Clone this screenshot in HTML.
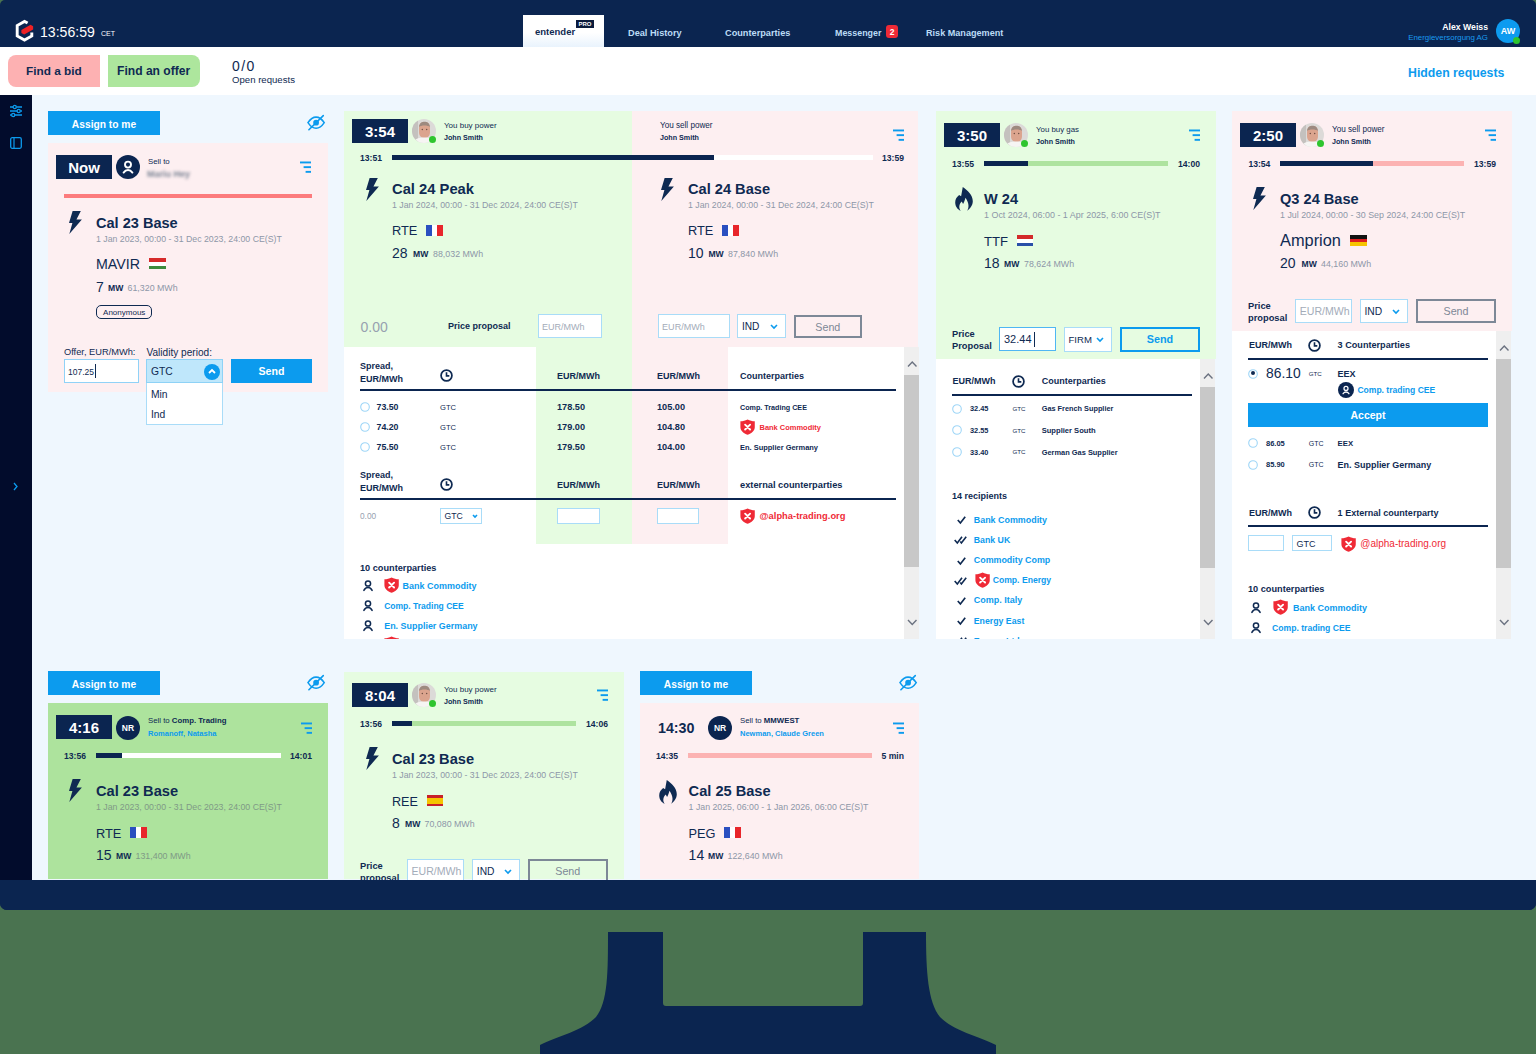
<!DOCTYPE html><html><head><meta charset="utf-8"><style>
html,body{margin:0;padding:0;}
body{width:1536px;height:1054px;overflow:hidden;position:relative;background:#4a7350;font-family:"Liberation Sans",sans-serif;}
.a{position:absolute;}
.t{position:absolute;white-space:nowrap;line-height:1;}
svg{overflow:visible}
</style></head><body>

<div class="a" style="left:0px;top:0px;width:1536px;height:910px;background:#0b2550;border-radius:5px 5px 7px 7px"></div>
<svg class="a" style="left:540px;top:932px;" width="456" height="122" viewBox="0 0 456 122" preserveAspectRatio="none"><path d="M68,0 L123,0 L123,71 Q123,74 126,74 L320,74 Q323,74 323,71 L323,0 L386,0 C386,40 388,70 400,85 C412,98 440,105 456,113 L456,123 L0,123 L0,113 C16,105 44,98 56,85 C68,70 68,40 68,0 Z" fill="#0b2550"/></svg>
<div class="a" style="left:0px;top:47px;width:1536px;height:48px;background:#ffffff;"></div>
<div class="a" style="left:32px;top:95px;width:1504px;height:785px;background:#eff7fe;"></div>
<div class="a" style="left:0px;top:95px;width:32px;height:785px;background:#020c2c;"></div>
<svg class="a" style="left:0px;top:0px;" width="60" height="60" viewBox="0 0 60 60" preserveAspectRatio="none"><path d="M27.6,23.1 L24.5,21.4 L17.2,25.6 L17.2,35.9 L24.5,40 L31.8,35.9 L31.8,32.6" fill="none" stroke="#fff" stroke-width="2.9" stroke-linejoin="miter"/><path d="M21.4,29.9 L30.6,24.7 L33.1,26.2 L33.1,29.4 L24.2,34.6 L21.4,33 Z" fill="#ee2124"/></svg>
<div class="t" style="left:40px;top:25.00px;font-size:14.1px;font-weight:400;color:#fff;">13:56:59</div>
<div class="t" style="left:101px;top:30.00px;font-size:7px;font-weight:400;color:#fff;">CET</div>
<div class="a" style="left:523px;top:15px;width:81px;height:32px;background:linear-gradient(#ffffff 55%,#e9f3fd)"></div>
<div class="t" style="left:535px;top:27.00px;font-size:9.5px;font-weight:700;color:#0f2a52;">entender</div>
<div class="a" style="left:576px;top:20px;width:18px;height:8px;background:#0a1b3c;"></div>
<div class="t" style="left:285px;width:600px;text-align:center;top:21.00px;font-size:6px;font-weight:700;color:#fff;">PRO</div>
<div class="t" style="left:628px;top:29.00px;font-size:9.2px;font-weight:700;color:#bcdcf6;">Deal History</div>
<div class="t" style="left:725px;top:29.00px;font-size:9.2px;font-weight:700;color:#bcdcf6;">Counterparties</div>
<div class="t" style="left:835px;top:29.00px;font-size:8.9px;font-weight:700;color:#bcdcf6;">Messenger</div>
<div class="a" style="left:886px;top:25px;width:12px;height:13px;background:#ef2a36;border-radius:3px"></div>
<div class="t" style="left:592px;width:600px;text-align:center;top:28.00px;font-size:8.5px;font-weight:700;color:#fff;">2</div>
<div class="t" style="left:926px;top:29.00px;font-size:9.1px;font-weight:700;color:#bcdcf6;">Risk Management</div>
<div class="t" style="right:48px;top:23.00px;font-size:8.7px;font-weight:700;color:#fff;">Alex Weiss</div>
<div class="t" style="right:48px;top:34.00px;font-size:7.9px;font-weight:400;color:#1a9bef;">Energieversorgung AG</div>
<div class="a" style="left:1496px;top:19px;width:24px;height:24px;border-radius:50%;background:#0d9bf0"></div>
<div class="t" style="left:1208px;width:600px;text-align:center;top:27.00px;font-size:9px;font-weight:700;color:#fff;">AW</div>
<div class="a" style="left:1513px;top:36.5px;width:7px;height:7px;border-radius:50%;background:#2ec52e"></div>
<div class="a" style="left:8px;top:55px;width:92px;height:32px;background:#fdb1b2;border-radius:8px 0 0 8px"></div>
<div class="t" style="left:26px;top:66.00px;font-size:11.8px;font-weight:700;color:#0f2a52;">Find a bid</div>
<div class="a" style="left:108px;top:55px;width:92px;height:32px;background:#ade69d;border-radius:0 8px 8px 0"></div>
<div class="t" style="left:117px;top:65.00px;font-size:12.1px;font-weight:700;color:#0f2a52;">Find an offer</div>
<div class="t" style="left:232px;top:59.00px;font-size:14px;font-weight:400;color:#0f2a52;letter-spacing:1.4px">0/0</div>
<div class="t" style="left:232px;top:75.00px;font-size:9.6px;font-weight:400;color:#0f2a52;">Open requests</div>
<div class="t" style="left:1408px;top:67.00px;font-size:12.3px;font-weight:700;color:#0c9bee;">Hidden requests</div>
<svg class="a" style="left:9px;top:104.2px;" width="14" height="14" viewBox="0 0 14 14" preserveAspectRatio="none"><g stroke="#0c9bee" stroke-width="1.3" fill="none"><path d="M1,3 L4,3 M7.5,3 L13,3"/><circle cx="5.7" cy="3" r="1.6"/><path d="M1,7 L8,7 M11.5,7 L13,7"/><circle cx="9.7" cy="7" r="1.6"/><path d="M1,11 L2.5,11 M6,11 L13,11"/><circle cx="4.2" cy="11" r="1.6"/></g></svg>
<svg class="a" style="left:10px;top:137px;" width="12" height="12" viewBox="0 0 12 12" preserveAspectRatio="none"><rect x="0.7" y="0.7" width="10.6" height="10.6" rx="1.5" fill="none" stroke="#0c9bee" stroke-width="1.3"/><path d="M4,1 L4,11" stroke="#0c9bee" stroke-width="1.2"/></svg>
<svg class="a" style="left:13px;top:482px;" width="5" height="9" viewBox="0 0 5 9" preserveAspectRatio="none"><path d="M1,1 L4,4.5 L1,8" fill="none" stroke="#0c9bee" stroke-width="1.3"/></svg>
<div class="a" style="left:48px;top:111px;width:112px;height:24px;background:#0c9bee;"></div>
<div class="t" style="left:-196px;width:600px;text-align:center;top:120.00px;font-size:10.24px;font-weight:700;color:#fff;">Assign to me</div>
<svg class="a" style="left:307px;top:114.8px;" width="18.2" height="15.4" viewBox="0 0 19 16" preserveAspectRatio="none"><path d="M1,8 C4,3.5 7,2.2 9.5,2.2 C12,2.2 15,3.5 18,8 C15,12.5 12,13.8 9.5,13.8 C7,13.8 4,12.5 1,8 Z" fill="none" stroke="#0c9bee" stroke-width="1.6"/><circle cx="9.5" cy="8" r="3" fill="#0c9bee"/><path d="M2,15.3 L17,0.7" stroke="#0c9bee" stroke-width="1.7" stroke-linecap="round"/></svg>
<div class="a" style="left:48px;top:143px;width:280px;height:249px;background:#fdeff1;"></div>
<div class="a" style="left:56px;top:155px;width:56px;height:24px;background:#0b2550;"></div>
<div class="t" style="left:-216px;width:600px;text-align:center;top:160.00px;font-size:15px;font-weight:700;color:#fff;">Now</div>
<div class="a" style="left:116px;top:155px;width:24px;height:24px;border-radius:50%;background:#0b2550"></div>
<svg class="a" style="left:116.0px;top:155.0px;" width="24.0" height="24.0" viewBox="0 0 24 24" preserveAspectRatio="none"><circle cx="12" cy="9.6" r="3" fill="none" stroke="#fff" stroke-width="1.9"/><path d="M7.6,17.6 C9,15.6 10.4,15 12,15 C13.6,15 15,15.6 16.4,17.6" fill="none" stroke="#fff" stroke-width="1.9" stroke-linecap="round"/></svg>
<div class="t" style="left:148px;top:158.00px;font-size:7.8px;font-weight:400;color:#0f2a52;">Sell to</div>
<div class="t" style="left:147px;top:170.00px;font-size:9px;font-weight:700;color:#7b8494;filter:blur(1.8px)">Mariu Hey</div>
<svg class="a" style="left:300px;top:161px;" width="11" height="12" viewBox="0 0 11 12" preserveAspectRatio="none"><rect x="0" y="0.5" width="11" height="1.9" fill="#0c9bee"/><rect x="3.6" y="5.2" width="7.4" height="1.9" fill="#0c9bee"/><rect x="5.6" y="9.9" width="5.4" height="1.9" fill="#0c9bee"/></svg>
<div class="a" style="left:64px;top:194px;width:248px;height:4px;background:#fc7b7d;"></div>
<svg class="a" style="left:69px;top:211px;" width="13" height="23" viewBox="0 0 12.2 22.8" preserveAspectRatio="none"><path d="M3.4,0 L11.1,0 L7,8.5 L12.1,8.5 L0.3,22.7 L3.2,12 L0,12 Z" fill="#0f2a52"/></svg>
<div class="t" style="left:96px;top:216.00px;font-size:14.55px;font-weight:700;color:#0f2a52;">Cal 23 Base</div>
<div class="t" style="left:96px;top:235.00px;font-size:8.76px;font-weight:400;color:#8d97a8;">1 Jan 2023, 00:00 - 31 Dec 2023, 24:00 CE(S)T</div>
<div class="t" style="left:96px;top:257.00px;font-size:14.23px;font-weight:400;color:#0f2a52;">MAVIR</div>
<div class="a" style="left:149px;top:258.4px;width:16.6px;height:3.6666666666666665px;background:#d62a2a;"></div>
<div class="a" style="left:149px;top:262.06666666666666px;width:16.6px;height:3.6666666666666665px;background:#ffffff;"></div>
<div class="a" style="left:149px;top:265.7333333333333px;width:16.6px;height:3.6666666666666665px;background:#3d8b3d;"></div>
<div class="t" style="left:96px;top:280.00px;font-size:14px;font-weight:400;color:#0f2a52;">7</div>
<div class="t" style="left:108px;top:284.00px;font-size:8.6px;font-weight:700;color:#0f2a52;">MW</div>
<div class="t" style="left:127.5px;top:284.00px;font-size:8.85px;font-weight:400;color:#8d97a8;">61,320 MWh</div>
<div class="a" style="left:96px;top:305px;width:53.6px;height:11.6px;border:1.2px solid #0f2a52;border-radius:5px"></div>
<div class="t" style="left:-175.8px;width:600px;text-align:center;top:309.00px;font-size:8.03px;font-weight:400;color:#0f2a52;">Anonymous</div>
<div class="t" style="left:64px;top:348.00px;font-size:9.28px;font-weight:400;color:#0f2a52;">Offer, EUR/MWh:</div>
<div class="t" style="left:146.5px;top:348.00px;font-size:10.1px;font-weight:400;color:#0f2a52;">Validity period:</div>
<div class="a" style="left:64px;top:359px;width:73px;height:22px;background:#fff;border:1px solid #90d2f7"></div>
<div class="t" style="left:68px;top:368.00px;font-size:8.5px;font-weight:400;color:#0f2a52;">107.25</div>
<div class="a" style="left:95px;top:364px;width:1px;height:14px;background:#0f2a52;"></div>
<div class="a" style="left:146px;top:359px;width:75px;height:22px;background:#bfe7fb;border:1px solid #8ed2f6"></div>
<div class="t" style="left:151px;top:367.00px;font-size:10.3px;font-weight:400;color:#0f2a52;">GTC</div>
<div class="a" style="left:203.5px;top:363.5px;width:16px;height:16px;border-radius:50%;background:#0c9bee"></div>
<svg class="a" style="left:207.5px;top:369px;" width="8" height="5" viewBox="0 0 8 5" preserveAspectRatio="none"><path d="M1,4 L4.0,1 L7,4" fill="none" stroke="#fff" stroke-width="1.8"/></svg>
<div class="a" style="left:146px;top:383px;width:75px;height:41px;background:#fff;border:1px solid #a9dcf8;border-top:none"></div>
<div class="t" style="left:151px;top:390.00px;font-size:10.3px;font-weight:400;color:#0f2a52;">Min</div>
<div class="t" style="left:151px;top:410.00px;font-size:10.3px;font-weight:400;color:#0f2a52;">Ind</div>
<div class="a" style="left:231px;top:359px;width:81px;height:24px;background:#0c9bee;"></div>
<div class="t" style="left:-28.5px;width:600px;text-align:center;top:366.00px;font-size:10.64px;font-weight:700;color:#fff;">Send</div>
<div class="a" style="left:344px;top:111px;width:288px;height:236px;background:#e6fce1;"></div>
<div class="a" style="left:632px;top:111px;width:286px;height:236px;background:#fdeff1;"></div>
<div class="a" style="left:344px;top:347px;width:560px;height:292px;background:#fff;"></div>
<div class="a" style="left:536px;top:347px;width:96px;height:197px;background:#e6fce1;"></div>
<div class="a" style="left:632px;top:347px;width:96px;height:197px;background:#fdeff1;"></div>
<div class="a" style="left:904px;top:347px;width:15px;height:292px;background:#efefef;"></div>
<div class="a" style="left:904px;top:375px;width:15px;height:192px;background:#c8c8c8;"></div>
<svg class="a" style="left:906.5px;top:360.5px;" width="10.5" height="6.5" viewBox="0 0 10.5 6.5" preserveAspectRatio="none"><path d="M1,5.5 L5.25,1 L9.5,5.5" fill="none" stroke="#6b7280" stroke-width="1.4"/></svg>
<svg class="a" style="left:906.5px;top:618.5px;" width="10.5" height="6.5" viewBox="0 0 10.5 6.5" preserveAspectRatio="none"><path d="M1,1 L5.25,5.5 L9.5,1" fill="none" stroke="#6b7280" stroke-width="1.4"/></svg>
<div class="a" style="left:352px;top:119px;width:56px;height:24px;background:#0b2550;"></div>
<div class="t" style="left:80px;width:600px;text-align:center;top:124.00px;font-size:15px;font-weight:700;color:#fff;">3:54</div>
<svg class="a" style="left:412px;top:119px;" width="24" height="24" viewBox="0 0 24 24" preserveAspectRatio="none"><defs><clipPath id="av1"><circle cx="12" cy="12" r="12"/></clipPath></defs><g clip-path="url(#av1)"><rect width="24" height="24" fill="#dcdad8"/><rect x="0" y="0" width="6" height="24" fill="#c4c1be"/><path d="M7,9 C7,4.5 9.5,3 12.5,3 C15.5,3 18,4.5 18,9 L18,13 C18,17 15.5,19 12.5,19 C9.5,19 7,17 7,13 Z" fill="#dba48e"/><path d="M7,8 C7.5,4 10,2.8 12.5,2.8 C15,2.8 17.5,4 18,8 C16,6 9,6 7,8 Z" fill="#9d8a80"/><circle cx="10.3" cy="10.5" r="0.7" fill="#6a4a40"/><circle cx="14.7" cy="10.5" r="0.7" fill="#6a4a40"/><path d="M1,24 C3,19.5 7,18.5 12.5,18.5 C18,18.5 22,19.5 24,24 Z" fill="#f6f5f3"/></g></svg>
<div class="a" style="left:429.2px;top:136.2px;width:7px;height:7px;border-radius:50%;background:#2ec52e"></div>
<div class="t" style="left:444px;top:122.00px;font-size:8.0px;font-weight:400;color:#0f2a52;">You buy power</div>
<div class="t" style="left:444px;top:135.00px;font-size:7.16px;font-weight:700;color:#0f2a52;">John Smith</div>
<div class="t" style="left:660px;top:122.00px;font-size:8.13px;font-weight:400;color:#0f2a52;">You sell power</div>
<div class="t" style="left:660px;top:135.00px;font-size:7.16px;font-weight:700;color:#0f2a52;">John Smith</div>
<svg class="a" style="left:893px;top:129px;" width="11" height="12" viewBox="0 0 11 12" preserveAspectRatio="none"><rect x="0" y="0.5" width="11" height="1.9" fill="#0c9bee"/><rect x="3.6" y="5.2" width="7.4" height="1.9" fill="#0c9bee"/><rect x="5.6" y="9.9" width="5.4" height="1.9" fill="#0c9bee"/></svg>
<div class="t" style="left:360px;top:154.00px;font-size:8.6px;font-weight:700;color:#0f2a52;">13:51</div>
<div class="a" style="left:392px;top:155px;width:322px;height:5px;background:#0b2550;"></div>
<div class="a" style="left:714px;top:155px;width:159px;height:5px;background:#ffffff;"></div>
<div class="t" style="right:632px;top:154.00px;font-size:8.6px;font-weight:700;color:#0f2a52;">13:59</div>
<svg class="a" style="left:366px;top:178px;" width="13" height="23" viewBox="0 0 12.2 22.8" preserveAspectRatio="none"><path d="M3.4,0 L11.1,0 L7,8.5 L12.1,8.5 L0.3,22.7 L3.2,12 L0,12 Z" fill="#0f2a52"/></svg>
<div class="t" style="left:392px;top:182.00px;font-size:14.75px;font-weight:700;color:#0f2a52;">Cal 24 Peak</div>
<div class="t" style="left:392px;top:201.00px;font-size:8.76px;font-weight:400;color:#8d97a8;">1 Jan 2024, 00:00 - 31 Dec 2024, 24:00 CE(S)T</div>
<div class="t" style="left:392px;top:225.00px;font-size:12.82px;font-weight:400;color:#0f2a52;">RTE</div>
<div class="a" style="left:426px;top:224.9px;width:5.533333333333334px;height:11px;background:#2a4fc0;"></div>
<div class="a" style="left:431.53333333333336px;top:224.9px;width:5.533333333333334px;height:11px;background:#ffffff;"></div>
<div class="a" style="left:437.06666666666666px;top:224.9px;width:5.533333333333334px;height:11px;background:#e8262b;"></div>
<div class="t" style="left:392px;top:246.00px;font-size:14px;font-weight:400;color:#0f2a52;">28</div>
<div class="t" style="left:413px;top:250.00px;font-size:8.6px;font-weight:700;color:#0f2a52;">MW</div>
<div class="t" style="left:433px;top:250.00px;font-size:8.85px;font-weight:400;color:#8d97a8;">88,032 MWh</div>
<svg class="a" style="left:661px;top:178px;" width="13" height="23" viewBox="0 0 12.2 22.8" preserveAspectRatio="none"><path d="M3.4,0 L11.1,0 L7,8.5 L12.1,8.5 L0.3,22.7 L3.2,12 L0,12 Z" fill="#0f2a52"/></svg>
<div class="t" style="left:688px;top:182.00px;font-size:14.61px;font-weight:700;color:#0f2a52;">Cal 24 Base</div>
<div class="t" style="left:688px;top:201.00px;font-size:8.76px;font-weight:400;color:#8d97a8;">1 Jan 2024, 00:00 - 31 Dec 2024, 24:00 CE(S)T</div>
<div class="t" style="left:688px;top:225.00px;font-size:12.82px;font-weight:400;color:#0f2a52;">RTE</div>
<div class="a" style="left:722px;top:224.9px;width:5.533333333333334px;height:11px;background:#2a4fc0;"></div>
<div class="a" style="left:727.5333333333333px;top:224.9px;width:5.533333333333334px;height:11px;background:#ffffff;"></div>
<div class="a" style="left:733.0666666666667px;top:224.9px;width:5.533333333333334px;height:11px;background:#e8262b;"></div>
<div class="t" style="left:688px;top:246.00px;font-size:14px;font-weight:400;color:#0f2a52;">10</div>
<div class="t" style="left:708.4px;top:250.00px;font-size:8.6px;font-weight:700;color:#0f2a52;">MW</div>
<div class="t" style="left:728px;top:250.00px;font-size:8.85px;font-weight:400;color:#8d97a8;">87,840 MWh</div>
<div class="t" style="left:360.5px;top:320.00px;font-size:14px;font-weight:400;color:#97a1b0;">0.00</div>
<div class="t" style="left:448px;top:322.00px;font-size:9.0px;font-weight:700;color:#0f2a52;">Price proposal</div>
<div class="a" style="left:537.5px;top:314px;width:62.5px;height:22px;background:#fff;border:1px solid #a9dcf8"></div>
<div class="t" style="left:542.0px;top:323.00px;font-size:9.04px;font-weight:400;color:#a3acb9;">EUR/MWh</div>
<div class="a" style="left:657.6px;top:314px;width:70px;height:22px;background:#fff;border:1px solid #a9dcf8"></div>
<div class="t" style="left:662.1px;top:323.00px;font-size:9.04px;font-weight:400;color:#a3acb9;">EUR/MWh</div>
<div class="a" style="left:737.4px;top:314px;width:46.3px;height:22px;background:#fff;border:1px solid #a9dcf8"></div>
<div class="t" style="left:741.9px;top:322.00px;font-size:10.16px;font-weight:400;color:#0f2a52;">IND</div>
<svg class="a" style="left:769.6999999999999px;top:323.8px;" width="8" height="5" viewBox="0 0 8 5" preserveAspectRatio="none"><path d="M1,1 L4.0,4 L7,1" fill="none" stroke="#0c9bee" stroke-width="1.6"/></svg>
<div class="a" style="left:793.8px;top:315px;width:64px;height:19px;border:2px solid #7d8897"></div>
<div class="t" style="left:527.8px;width:600px;text-align:center;top:322.00px;font-size:10.71px;font-weight:400;color:#7d8897;">Send</div>
<div class="t" style="left:360px;top:362.00px;font-size:9.0px;font-weight:700;color:#0f2a52;">Spread,</div>
<div class="t" style="left:360px;top:375.00px;font-size:9.0px;font-weight:700;color:#0f2a52;">EUR/MWh</div>
<svg class="a" style="left:439.5px;top:369.0px;" width="13" height="13" viewBox="0 0 12 12" preserveAspectRatio="none"><circle cx="6" cy="6" r="5" fill="none" stroke="#0f2a52" stroke-width="1.6"/><path d="M6,3 L6,6.3 L8.6,6.3" fill="none" stroke="#0f2a52" stroke-width="1.5"/></svg>
<div class="t" style="left:557px;top:372.00px;font-size:9.0px;font-weight:700;color:#0f2a52;">EUR/MWh</div>
<div class="t" style="left:657px;top:372.00px;font-size:9.0px;font-weight:700;color:#0f2a52;">EUR/MWh</div>
<div class="t" style="left:740px;top:372.00px;font-size:9px;font-weight:700;color:#0f2a52;">Counterparties</div>
<div class="a" style="left:360px;top:389px;width:536px;height:2px;background:#0b2550;"></div>
<svg class="a" style="left:360px;top:402.2px;" width="10" height="10" viewBox="0 0 10 10" preserveAspectRatio="none"><circle cx="5" cy="5" r="4.3" fill="#fff" stroke="#9fd6f7" stroke-width="1.1"/></svg>
<div class="t" style="left:376.5px;top:403.00px;font-size:8.79px;font-weight:700;color:#0f2a52;">73.50</div>
<div class="t" style="left:440px;top:404.00px;font-size:7.58px;font-weight:400;color:#0f2a52;">GTC</div>
<div class="t" style="left:557px;top:403.00px;font-size:9.16px;font-weight:700;color:#0f2a52;">178.50</div>
<div class="t" style="left:657px;top:403.00px;font-size:9.16px;font-weight:700;color:#0f2a52;">105.00</div>
<div class="t" style="left:740px;top:405.00px;font-size:7.18px;font-weight:700;color:#0f2a52;">Comp. Trading CEE</div>
<svg class="a" style="left:360px;top:422.2px;" width="10" height="10" viewBox="0 0 10 10" preserveAspectRatio="none"><circle cx="5" cy="5" r="4.3" fill="#fff" stroke="#9fd6f7" stroke-width="1.1"/></svg>
<div class="t" style="left:376.5px;top:423.00px;font-size:8.79px;font-weight:700;color:#0f2a52;">74.20</div>
<div class="t" style="left:440px;top:424.00px;font-size:7.58px;font-weight:400;color:#0f2a52;">GTC</div>
<div class="t" style="left:557px;top:423.00px;font-size:9.16px;font-weight:700;color:#0f2a52;">179.00</div>
<div class="t" style="left:657px;top:423.00px;font-size:9.16px;font-weight:700;color:#0f2a52;">104.80</div>
<svg class="a" style="left:740.2px;top:419.2px;" width="15.2" height="16" viewBox="0 0 14.6 16" preserveAspectRatio="none"><path d="M7.3,0.4 C9.5,1.6 11.8,2.2 14.2,2.2 L14.2,8.2 C14.2,11.8 11.2,14.4 7.3,15.8 C3.4,14.4 0.4,11.8 0.4,8.2 L0.4,2.2 C2.8,2.2 5.1,1.6 7.3,0.4 Z" fill="#ef2a36"/><path d="M4.9,5.7 L9.7,10.5 M9.7,5.7 L4.9,10.5" stroke="#fff" stroke-width="1.8" stroke-linecap="round"/></svg>
<div class="t" style="left:759.5px;top:424.00px;font-size:7.48px;font-weight:700;color:#ef2a36;">Bank Commodity</div>
<svg class="a" style="left:360px;top:442.2px;" width="10" height="10" viewBox="0 0 10 10" preserveAspectRatio="none"><circle cx="5" cy="5" r="4.3" fill="#fff" stroke="#9fd6f7" stroke-width="1.1"/></svg>
<div class="t" style="left:376.5px;top:443.00px;font-size:8.79px;font-weight:700;color:#0f2a52;">75.50</div>
<div class="t" style="left:440px;top:444.00px;font-size:7.58px;font-weight:400;color:#0f2a52;">GTC</div>
<div class="t" style="left:557px;top:443.00px;font-size:9.16px;font-weight:700;color:#0f2a52;">179.50</div>
<div class="t" style="left:657px;top:443.00px;font-size:9.16px;font-weight:700;color:#0f2a52;">104.00</div>
<div class="t" style="left:740px;top:444.00px;font-size:7.47px;font-weight:700;color:#0f2a52;">En. Supplier Germany</div>
<div class="t" style="left:360px;top:471.00px;font-size:9.0px;font-weight:700;color:#0f2a52;">Spread,</div>
<div class="t" style="left:360px;top:484.00px;font-size:9.0px;font-weight:700;color:#0f2a52;">EUR/MWh</div>
<svg class="a" style="left:439.5px;top:477.5px;" width="13" height="13" viewBox="0 0 12 12" preserveAspectRatio="none"><circle cx="6" cy="6" r="5" fill="none" stroke="#0f2a52" stroke-width="1.6"/><path d="M6,3 L6,6.3 L8.6,6.3" fill="none" stroke="#0f2a52" stroke-width="1.5"/></svg>
<div class="t" style="left:557px;top:481.00px;font-size:9.0px;font-weight:700;color:#0f2a52;">EUR/MWh</div>
<div class="t" style="left:657px;top:481.00px;font-size:9.0px;font-weight:700;color:#0f2a52;">EUR/MWh</div>
<div class="t" style="left:740px;top:481.00px;font-size:9.27px;font-weight:700;color:#0f2a52;">external counterparties</div>
<div class="a" style="left:360px;top:498px;width:536px;height:2px;background:#0b2550;"></div>
<div class="t" style="left:360px;top:512.00px;font-size:8.3px;font-weight:400;color:#97a1b0;">0.00</div>
<div class="a" style="left:440px;top:508px;width:40px;height:14px;background:#fff;border:1px solid #a9dcf8"></div>
<div class="t" style="left:444.5px;top:512.00px;font-size:8.67px;font-weight:400;color:#0f2a52;">GTC</div>
<svg class="a" style="left:471.5px;top:514.3px;" width="6" height="4" viewBox="0 0 6 4" preserveAspectRatio="none"><path d="M1,1 L3.0,3 L5,1" fill="none" stroke="#0c9bee" stroke-width="1.6"/></svg>
<div class="a" style="left:557px;top:508px;width:41px;height:14px;background:#fff;border:1px solid #a9dcf8"></div>
<div class="a" style="left:657px;top:508px;width:40px;height:14px;background:#fff;border:1px solid #a9dcf8"></div>
<svg class="a" style="left:740.2px;top:508px;" width="15.2" height="16" viewBox="0 0 14.6 16" preserveAspectRatio="none"><path d="M7.3,0.4 C9.5,1.6 11.8,2.2 14.2,2.2 L14.2,8.2 C14.2,11.8 11.2,14.4 7.3,15.8 C3.4,14.4 0.4,11.8 0.4,8.2 L0.4,2.2 C2.8,2.2 5.1,1.6 7.3,0.4 Z" fill="#ef2a36"/><path d="M4.9,5.7 L9.7,10.5 M9.7,5.7 L4.9,10.5" stroke="#fff" stroke-width="1.8" stroke-linecap="round"/></svg>
<div class="t" style="left:759.5px;top:512.00px;font-size:9.35px;font-weight:700;color:#ef2a36;">@alpha-trading.org</div>
<div class="t" style="left:360px;top:564.00px;font-size:9.18px;font-weight:700;color:#0f2a52;">10 counterparties</div>
<svg class="a" style="left:363px;top:579.5px;" width="10" height="11" viewBox="0 0 10 11" preserveAspectRatio="none"><circle cx="5" cy="3.5" r="2.6" fill="none" stroke="#0f2a52" stroke-width="1.5"/><path d="M0.9,10.3 C2,8.3 3.4,7.5 5,7.5 C6.6,7.5 8,8.3 9.1,10.3" fill="none" stroke="#0f2a52" stroke-width="1.6" stroke-linecap="round"/></svg>
<svg class="a" style="left:384.2px;top:577px;" width="15.2" height="16" viewBox="0 0 14.6 16" preserveAspectRatio="none"><path d="M7.3,0.4 C9.5,1.6 11.8,2.2 14.2,2.2 L14.2,8.2 C14.2,11.8 11.2,14.4 7.3,15.8 C3.4,14.4 0.4,11.8 0.4,8.2 L0.4,2.2 C2.8,2.2 5.1,1.6 7.3,0.4 Z" fill="#ef2a36"/><path d="M4.9,5.7 L9.7,10.5 M9.7,5.7 L4.9,10.5" stroke="#fff" stroke-width="1.8" stroke-linecap="round"/></svg>
<div class="t" style="left:402.6px;top:582.00px;font-size:9.0px;font-weight:700;color:#0c9bee;">Bank Commodity</div>
<svg class="a" style="left:363px;top:599.5px;" width="10" height="11" viewBox="0 0 10 11" preserveAspectRatio="none"><circle cx="5" cy="3.5" r="2.6" fill="none" stroke="#0f2a52" stroke-width="1.5"/><path d="M0.9,10.3 C2,8.3 3.4,7.5 5,7.5 C6.6,7.5 8,8.3 9.1,10.3" fill="none" stroke="#0f2a52" stroke-width="1.6" stroke-linecap="round"/></svg>
<div class="t" style="left:384.2px;top:602.00px;font-size:8.52px;font-weight:700;color:#0c9bee;">Comp. Trading CEE</div>
<svg class="a" style="left:363px;top:619.5px;" width="10" height="11" viewBox="0 0 10 11" preserveAspectRatio="none"><circle cx="5" cy="3.5" r="2.6" fill="none" stroke="#0f2a52" stroke-width="1.5"/><path d="M0.9,10.3 C2,8.3 3.4,7.5 5,7.5 C6.6,7.5 8,8.3 9.1,10.3" fill="none" stroke="#0f2a52" stroke-width="1.6" stroke-linecap="round"/></svg>
<div class="t" style="left:384.2px;top:622.00px;font-size:8.95px;font-weight:700;color:#0c9bee;">En. Supplier Germany</div>
<div class="a" style="left:380px;top:630px;width:20px;height:9px;overflow:hidden">
<svg class="a" style="left:4.2px;top:5.5px;" width="15.2" height="16" viewBox="0 0 14.6 16" preserveAspectRatio="none"><path d="M7.3,0.4 C9.5,1.6 11.8,2.2 14.2,2.2 L14.2,8.2 C14.2,11.8 11.2,14.4 7.3,15.8 C3.4,14.4 0.4,11.8 0.4,8.2 L0.4,2.2 C2.8,2.2 5.1,1.6 7.3,0.4 Z" fill="#ef2a36"/><path d="M4.9,5.7 L9.7,10.5 M9.7,5.7 L4.9,10.5" stroke="#fff" stroke-width="1.8" stroke-linecap="round"/></svg>
</div>
<div class="a" style="left:936px;top:111px;width:280px;height:248px;background:#e6fce1;"></div>
<div class="a" style="left:936px;top:359px;width:264px;height:280px;background:#fff;"></div>
<div class="a" style="left:1200px;top:359px;width:15px;height:280px;background:#efefef;"></div>
<div class="a" style="left:1200px;top:387px;width:15px;height:181px;background:#c8c8c8;"></div>
<svg class="a" style="left:1202.5px;top:372.5px;" width="10.5" height="6.5" viewBox="0 0 10.5 6.5" preserveAspectRatio="none"><path d="M1,5.5 L5.25,1 L9.5,5.5" fill="none" stroke="#6b7280" stroke-width="1.4"/></svg>
<svg class="a" style="left:1202.5px;top:618.5px;" width="10.5" height="6.5" viewBox="0 0 10.5 6.5" preserveAspectRatio="none"><path d="M1,1 L5.25,5.5 L9.5,1" fill="none" stroke="#6b7280" stroke-width="1.4"/></svg>
<div class="a" style="left:944px;top:123px;width:56px;height:24px;background:#0b2550;"></div>
<div class="t" style="left:672px;width:600px;text-align:center;top:128.00px;font-size:15px;font-weight:700;color:#fff;">3:50</div>
<svg class="a" style="left:1004px;top:123px;" width="24" height="24" viewBox="0 0 24 24" preserveAspectRatio="none"><defs><clipPath id="av2"><circle cx="12" cy="12" r="12"/></clipPath></defs><g clip-path="url(#av2)"><rect width="24" height="24" fill="#dcdad8"/><rect x="0" y="0" width="6" height="24" fill="#c4c1be"/><path d="M7,9 C7,4.5 9.5,3 12.5,3 C15.5,3 18,4.5 18,9 L18,13 C18,17 15.5,19 12.5,19 C9.5,19 7,17 7,13 Z" fill="#dba48e"/><path d="M7,8 C7.5,4 10,2.8 12.5,2.8 C15,2.8 17.5,4 18,8 C16,6 9,6 7,8 Z" fill="#9d8a80"/><circle cx="10.3" cy="10.5" r="0.7" fill="#6a4a40"/><circle cx="14.7" cy="10.5" r="0.7" fill="#6a4a40"/><path d="M1,24 C3,19.5 7,18.5 12.5,18.5 C18,18.5 22,19.5 24,24 Z" fill="#f6f5f3"/></g></svg>
<div class="a" style="left:1021.2px;top:140.2px;width:7px;height:7px;border-radius:50%;background:#2ec52e"></div>
<div class="t" style="left:1036px;top:126.00px;font-size:7.86px;font-weight:400;color:#0f2a52;">You buy gas</div>
<div class="t" style="left:1036px;top:139.00px;font-size:7.16px;font-weight:700;color:#0f2a52;">John Smith</div>
<svg class="a" style="left:1189px;top:129px;" width="11" height="12" viewBox="0 0 11 12" preserveAspectRatio="none"><rect x="0" y="0.5" width="11" height="1.9" fill="#0c9bee"/><rect x="3.6" y="5.2" width="7.4" height="1.9" fill="#0c9bee"/><rect x="5.6" y="9.9" width="5.4" height="1.9" fill="#0c9bee"/></svg>
<div class="t" style="left:952px;top:160.00px;font-size:8.6px;font-weight:700;color:#0f2a52;">13:55</div>
<div class="a" style="left:984px;top:161px;width:44px;height:5px;background:#0b2550;"></div>
<div class="a" style="left:1028px;top:161px;width:140px;height:5px;background:#aee39f;"></div>
<div class="t" style="right:336px;top:160.00px;font-size:8.6px;font-weight:700;color:#0f2a52;">14:00</div>
<svg class="a" style="left:955px;top:187px;" width="18" height="24" viewBox="0 0 17.4 23.6" preserveAspectRatio="none"><path d="M7.5,0 C12,3 17.2,8 17.2,14 C17.2,18 14.5,21.5 11.7,23.4 C13.5,20.5 14,16.5 10.2,10.5 C9.5,13 8.7,15 7.8,16.6 L6.5,14.2 C4,16.5 3.3,20.5 5.6,23.4 C2,22 0.2,18.5 0.2,15 C0.2,12 2,9.5 4,7.9 L5.9,9 C6.5,6 7,3 7.5,0 Z" fill="#0f2a52"/></svg>
<div class="t" style="left:984px;top:192.00px;font-size:14.57px;font-weight:700;color:#0f2a52;">W 24</div>
<div class="t" style="left:984px;top:211.00px;font-size:8.93px;font-weight:400;color:#8d97a8;">1 Oct 2024, 06:00 - 1 Apr 2025, 6:00 CE(S)T</div>
<div class="t" style="left:984px;top:235.00px;font-size:13.1px;font-weight:400;color:#0f2a52;">TTF</div>
<div class="a" style="left:1016.7px;top:235.4px;width:16.6px;height:3.6666666666666665px;background:#d32a2a;"></div>
<div class="a" style="left:1016.7px;top:239.06666666666666px;width:16.6px;height:3.6666666666666665px;background:#ffffff;"></div>
<div class="a" style="left:1016.7px;top:242.73333333333335px;width:16.6px;height:3.6666666666666665px;background:#2a4fa8;"></div>
<div class="t" style="left:984px;top:256.00px;font-size:14px;font-weight:400;color:#0f2a52;">18</div>
<div class="t" style="left:1004px;top:260.00px;font-size:8.6px;font-weight:700;color:#0f2a52;">MW</div>
<div class="t" style="left:1024px;top:260.00px;font-size:8.85px;font-weight:400;color:#8d97a8;">78,624 MWh</div>
<div class="t" style="left:952px;top:330.00px;font-size:9.3px;font-weight:700;color:#0f2a52;">Price</div>
<div class="t" style="left:952px;top:342.00px;font-size:9.3px;font-weight:700;color:#0f2a52;">Proposal</div>
<div class="a" style="left:999px;top:327px;width:54.6px;height:22px;background:#fff;border:1.2px solid #4fb6f3"></div>
<div class="t" style="left:1004px;top:334.00px;font-size:11px;font-weight:400;color:#0f2a52;">32.44</div>
<div class="a" style="left:1034px;top:332px;width:1px;height:15px;background:#0f2a52;"></div>
<div class="a" style="left:1064px;top:327px;width:45.5px;height:22.5px;background:#fff;border:1px solid #a9dcf8"></div>
<div class="t" style="left:1068.5px;top:335.00px;font-size:9.58px;font-weight:400;color:#0f2a52;">FIRM</div>
<svg class="a" style="left:1095.5px;top:337.05px;" width="8" height="5" viewBox="0 0 8 5" preserveAspectRatio="none"><path d="M1,1 L4.0,4 L7,1" fill="none" stroke="#0c9bee" stroke-width="1.6"/></svg>
<div class="a" style="left:1120px;top:327px;width:76px;height:20.5px;border:2px solid #0c9bee"></div>
<div class="t" style="left:860px;width:600px;text-align:center;top:334.00px;font-size:10.8px;font-weight:700;color:#0c9bee;">Send</div>
<div class="t" style="left:952.5px;top:377.00px;font-size:9.0px;font-weight:700;color:#0f2a52;">EUR/MWh</div>
<svg class="a" style="left:1012.0px;top:374.5px;" width="13" height="13" viewBox="0 0 12 12" preserveAspectRatio="none"><circle cx="6" cy="6" r="5" fill="none" stroke="#0f2a52" stroke-width="1.6"/><path d="M6,3 L6,6.3 L8.6,6.3" fill="none" stroke="#0f2a52" stroke-width="1.5"/></svg>
<div class="t" style="left:1041.7px;top:377.00px;font-size:9px;font-weight:700;color:#0f2a52;">Counterparties</div>
<div class="a" style="left:952px;top:394px;width:240px;height:2px;background:#0b2550;"></div>
<svg class="a" style="left:952px;top:403.7px;" width="10" height="10" viewBox="0 0 10 10" preserveAspectRatio="none"><circle cx="5" cy="5" r="4.3" fill="#fff" stroke="#9fd6f7" stroke-width="1.1"/></svg>
<div class="t" style="left:970px;top:405.00px;font-size:7.39px;font-weight:700;color:#0f2a52;">32.45</div>
<div class="t" style="left:1012.5px;top:406.00px;font-size:6.16px;font-weight:400;color:#0f2a52;">GTC</div>
<div class="t" style="left:1041.7px;top:405.00px;font-size:7.33px;font-weight:700;color:#0f2a52;">Gas French Supplier</div>
<svg class="a" style="left:952px;top:425.4px;" width="10" height="10" viewBox="0 0 10 10" preserveAspectRatio="none"><circle cx="5" cy="5" r="4.3" fill="#fff" stroke="#9fd6f7" stroke-width="1.1"/></svg>
<div class="t" style="left:970px;top:427.00px;font-size:7.39px;font-weight:700;color:#0f2a52;">32.55</div>
<div class="t" style="left:1012.5px;top:428.00px;font-size:6.16px;font-weight:400;color:#0f2a52;">GTC</div>
<div class="t" style="left:1041.7px;top:427.00px;font-size:7.59px;font-weight:700;color:#0f2a52;">Supplier South</div>
<svg class="a" style="left:952px;top:447px;" width="10" height="10" viewBox="0 0 10 10" preserveAspectRatio="none"><circle cx="5" cy="5" r="4.3" fill="#fff" stroke="#9fd6f7" stroke-width="1.1"/></svg>
<div class="t" style="left:970px;top:449.00px;font-size:7.39px;font-weight:700;color:#0f2a52;">33.40</div>
<div class="t" style="left:1012.5px;top:449.00px;font-size:6.16px;font-weight:400;color:#0f2a52;">GTC</div>
<div class="t" style="left:1041.7px;top:449.00px;font-size:7.43px;font-weight:700;color:#0f2a52;">German Gas Supplier</div>
<div class="t" style="left:952px;top:492.00px;font-size:9.0px;font-weight:700;color:#0f2a52;">14 recipients</div>
<svg class="a" style="left:956.5px;top:516.1px;" width="9" height="8" viewBox="0 0 9 8" preserveAspectRatio="none"><path d="M0.8,4 L3.4,7 L8.2,0.8" fill="none" stroke="#0f2a52" stroke-width="1.7"/></svg>
<div class="t" style="left:973.8px;top:516.00px;font-size:8.91px;font-weight:700;color:#0c9bee;">Bank Commodity</div>
<svg class="a" style="left:953.5px;top:536.3px;" width="13" height="8" viewBox="0 0 13 8" preserveAspectRatio="none"><path d="M0.7,4 L3.3,7 L8,0.8 M6.3,5.6 L7.4,7 L12.2,0.8" fill="none" stroke="#0f2a52" stroke-width="1.6"/></svg>
<div class="t" style="left:973.8px;top:536.00px;font-size:8.76px;font-weight:700;color:#0c9bee;">Bank UK</div>
<svg class="a" style="left:956.5px;top:556.5px;" width="9" height="8" viewBox="0 0 9 8" preserveAspectRatio="none"><path d="M0.8,4 L3.4,7 L8.2,0.8" fill="none" stroke="#0f2a52" stroke-width="1.7"/></svg>
<div class="t" style="left:973.8px;top:556.00px;font-size:8.88px;font-weight:700;color:#0c9bee;">Commodity Comp</div>
<svg class="a" style="left:953.5px;top:576.5px;" width="13" height="8" viewBox="0 0 13 8" preserveAspectRatio="none"><path d="M0.7,4 L3.3,7 L8,0.8 M6.3,5.6 L7.4,7 L12.2,0.8" fill="none" stroke="#0f2a52" stroke-width="1.6"/></svg>
<svg class="a" style="left:974.7px;top:571.5px;" width="15.2" height="16" viewBox="0 0 14.6 16" preserveAspectRatio="none"><path d="M7.3,0.4 C9.5,1.6 11.8,2.2 14.2,2.2 L14.2,8.2 C14.2,11.8 11.2,14.4 7.3,15.8 C3.4,14.4 0.4,11.8 0.4,8.2 L0.4,2.2 C2.8,2.2 5.1,1.6 7.3,0.4 Z" fill="#ef2a36"/><path d="M4.9,5.7 L9.7,10.5 M9.7,5.7 L4.9,10.5" stroke="#fff" stroke-width="1.8" stroke-linecap="round"/></svg>
<div class="t" style="left:992.7px;top:576.00px;font-size:8.63px;font-weight:700;color:#0c9bee;">Comp. Energy</div>
<svg class="a" style="left:956.5px;top:596.5px;" width="9" height="8" viewBox="0 0 9 8" preserveAspectRatio="none"><path d="M0.8,4 L3.4,7 L8.2,0.8" fill="none" stroke="#0f2a52" stroke-width="1.7"/></svg>
<div class="t" style="left:973.8px;top:596.00px;font-size:9.0px;font-weight:700;color:#0c9bee;">Comp. Italy</div>
<svg class="a" style="left:956.5px;top:617.1px;" width="9" height="8" viewBox="0 0 9 8" preserveAspectRatio="none"><path d="M0.8,4 L3.4,7 L8.2,0.8" fill="none" stroke="#0f2a52" stroke-width="1.7"/></svg>
<div class="t" style="left:973.8px;top:617.00px;font-size:8.74px;font-weight:700;color:#0c9bee;">Energy East</div>
<div class="a" style="left:950px;top:632px;width:80px;height:7px;overflow:hidden">
<svg class="a" style="left:3.5px;top:5.1px;" width="13" height="8" viewBox="0 0 13 8" preserveAspectRatio="none"><path d="M0.7,4 L3.3,7 L8,0.8 M6.3,5.6 L7.4,7 L12.2,0.8" fill="none" stroke="#0f2a52" stroke-width="1.6"/></svg>
<div class="t" style="left:23.8px;top:5.00px;font-size:8.81px;font-weight:700;color:#0c9bee;">Energy Ltd</div>
</div>
<div class="a" style="left:1232px;top:111px;width:280px;height:220px;background:#fdeff1;"></div>
<div class="a" style="left:1232px;top:331px;width:264px;height:308px;background:#fff;"></div>
<div class="a" style="left:1496px;top:331px;width:15px;height:308px;background:#efefef;"></div>
<div class="a" style="left:1496px;top:359px;width:15px;height:209px;background:#c8c8c8;"></div>
<svg class="a" style="left:1498.5px;top:344.5px;" width="10.5" height="6.5" viewBox="0 0 10.5 6.5" preserveAspectRatio="none"><path d="M1,5.5 L5.25,1 L9.5,5.5" fill="none" stroke="#6b7280" stroke-width="1.4"/></svg>
<svg class="a" style="left:1498.5px;top:618.5px;" width="10.5" height="6.5" viewBox="0 0 10.5 6.5" preserveAspectRatio="none"><path d="M1,1 L5.25,5.5 L9.5,1" fill="none" stroke="#6b7280" stroke-width="1.4"/></svg>
<div class="a" style="left:1240px;top:123px;width:56px;height:24px;background:#0b2550;"></div>
<div class="t" style="left:968px;width:600px;text-align:center;top:128.00px;font-size:15px;font-weight:700;color:#fff;">2:50</div>
<svg class="a" style="left:1300px;top:123px;" width="24" height="24" viewBox="0 0 24 24" preserveAspectRatio="none"><defs><clipPath id="av3"><circle cx="12" cy="12" r="12"/></clipPath></defs><g clip-path="url(#av3)"><rect width="24" height="24" fill="#dcdad8"/><rect x="0" y="0" width="6" height="24" fill="#c4c1be"/><path d="M7,9 C7,4.5 9.5,3 12.5,3 C15.5,3 18,4.5 18,9 L18,13 C18,17 15.5,19 12.5,19 C9.5,19 7,17 7,13 Z" fill="#dba48e"/><path d="M7,8 C7.5,4 10,2.8 12.5,2.8 C15,2.8 17.5,4 18,8 C16,6 9,6 7,8 Z" fill="#9d8a80"/><circle cx="10.3" cy="10.5" r="0.7" fill="#6a4a40"/><circle cx="14.7" cy="10.5" r="0.7" fill="#6a4a40"/><path d="M1,24 C3,19.5 7,18.5 12.5,18.5 C18,18.5 22,19.5 24,24 Z" fill="#f6f5f3"/></g></svg>
<div class="a" style="left:1317.2px;top:140.2px;width:7px;height:7px;border-radius:50%;background:#2ec52e"></div>
<div class="t" style="left:1332px;top:126.00px;font-size:8.13px;font-weight:400;color:#0f2a52;">You sell power</div>
<div class="t" style="left:1332px;top:139.00px;font-size:7.16px;font-weight:700;color:#0f2a52;">John Smith</div>
<svg class="a" style="left:1485px;top:129px;" width="11" height="12" viewBox="0 0 11 12" preserveAspectRatio="none"><rect x="0" y="0.5" width="11" height="1.9" fill="#0c9bee"/><rect x="3.6" y="5.2" width="7.4" height="1.9" fill="#0c9bee"/><rect x="5.6" y="9.9" width="5.4" height="1.9" fill="#0c9bee"/></svg>
<div class="t" style="left:1248.4px;top:160.00px;font-size:8.6px;font-weight:700;color:#0f2a52;">13:54</div>
<div class="a" style="left:1280px;top:161px;width:93px;height:5px;background:#0b2550;"></div>
<div class="a" style="left:1373px;top:161px;width:91px;height:5px;background:#fcb2b2;"></div>
<div class="t" style="right:40px;top:160.00px;font-size:8.6px;font-weight:700;color:#0f2a52;">13:59</div>
<svg class="a" style="left:1253px;top:187px;" width="13" height="23" viewBox="0 0 12.2 22.8" preserveAspectRatio="none"><path d="M3.4,0 L11.1,0 L7,8.5 L12.1,8.5 L0.3,22.7 L3.2,12 L0,12 Z" fill="#0f2a52"/></svg>
<div class="t" style="left:1280px;top:192.00px;font-size:14.6px;font-weight:700;color:#0f2a52;">Q3 24 Base</div>
<div class="t" style="left:1280px;top:211.00px;font-size:8.87px;font-weight:400;color:#8d97a8;">1 Jul 2024, 00:00 - 30 Sep 2024, 24:00 CE(S)T</div>
<div class="t" style="left:1280px;top:232.00px;font-size:16.38px;font-weight:400;color:#0f2a52;">Amprion</div>
<div class="a" style="left:1350.3px;top:234.9px;width:16.6px;height:3.6666666666666665px;background:#111111;"></div>
<div class="a" style="left:1350.3px;top:238.56666666666666px;width:16.6px;height:3.6666666666666665px;background:#dd1f1f;"></div>
<div class="a" style="left:1350.3px;top:242.23333333333335px;width:16.6px;height:3.6666666666666665px;background:#f6c400;"></div>
<div class="t" style="left:1280px;top:256.00px;font-size:14px;font-weight:400;color:#0f2a52;">20</div>
<div class="t" style="left:1301.5px;top:260.00px;font-size:8.6px;font-weight:700;color:#0f2a52;">MW</div>
<div class="t" style="left:1321px;top:260.00px;font-size:8.85px;font-weight:400;color:#8d97a8;">44,160 MWh</div>
<div class="t" style="left:1248px;top:302.00px;font-size:9.3px;font-weight:700;color:#0f2a52;">Price</div>
<div class="t" style="left:1248px;top:314.00px;font-size:9.3px;font-weight:700;color:#0f2a52;">proposal</div>
<div class="a" style="left:1295.2px;top:299px;width:55px;height:22px;background:#fff;border:1px solid #a9dcf8"></div>
<div class="t" style="left:1299.7px;top:306.00px;font-size:10.59px;font-weight:400;color:#a3acb9;">EUR/MWh</div>
<div class="a" style="left:1360px;top:299px;width:46px;height:22px;background:#fff;border:1px solid #a9dcf8"></div>
<div class="t" style="left:1364.5px;top:307.00px;font-size:10.28px;font-weight:400;color:#0f2a52;">IND</div>
<svg class="a" style="left:1392px;top:308.8px;" width="8" height="5" viewBox="0 0 8 5" preserveAspectRatio="none"><path d="M1,1 L4.0,4 L7,1" fill="none" stroke="#0c9bee" stroke-width="1.6"/></svg>
<div class="a" style="left:1416px;top:299px;width:76px;height:20px;border:2px solid #7d8897"></div>
<div class="t" style="left:1156.0px;width:600px;text-align:center;top:306.00px;font-size:10.71px;font-weight:400;color:#7d8897;">Send</div>
<div class="t" style="left:1249px;top:341.00px;font-size:9.0px;font-weight:700;color:#0f2a52;">EUR/MWh</div>
<svg class="a" style="left:1308.2px;top:338.5px;" width="13" height="13" viewBox="0 0 12 12" preserveAspectRatio="none"><circle cx="6" cy="6" r="5" fill="none" stroke="#0f2a52" stroke-width="1.6"/><path d="M6,3 L6,6.3 L8.6,6.3" fill="none" stroke="#0f2a52" stroke-width="1.5"/></svg>
<div class="t" style="left:1337.6px;top:341.00px;font-size:9.12px;font-weight:700;color:#0f2a52;">3 Counterparties</div>
<div class="a" style="left:1248px;top:358px;width:240px;height:2px;background:#0b2550;"></div>
<svg class="a" style="left:1248px;top:369px;" width="10" height="10" viewBox="0 0 10 10" preserveAspectRatio="none"><circle cx="5" cy="5" r="4.3" fill="#fff" stroke="#9fd6f7" stroke-width="1.1"/></svg>
<div class="a" style="left:1251px;top:371px;width:4px;height:4px;border-radius:50%;background:#0f2a52"></div>
<div class="t" style="left:1266px;top:367.00px;font-size:13.83px;font-weight:400;color:#0f2a52;">86.10</div>
<div class="t" style="left:1308.7px;top:371.00px;font-size:6.16px;font-weight:400;color:#0f2a52;">GTC</div>
<div class="t" style="left:1337.6px;top:370.00px;font-size:9px;font-weight:700;color:#0f2a52;">EEX</div>
<div class="a" style="left:1337.5px;top:381.8px;width:16px;height:16px;border-radius:50%;background:#0b2550"></div>
<svg class="a" style="left:1337.5px;top:381.8px;" width="16.0" height="16.0" viewBox="0 0 24 24" preserveAspectRatio="none"><circle cx="12" cy="9.6" r="3" fill="none" stroke="#fff" stroke-width="1.9"/><path d="M7.6,17.6 C9,15.6 10.4,15 12,15 C13.6,15 15,15.6 16.4,17.6" fill="none" stroke="#fff" stroke-width="1.9" stroke-linecap="round"/></svg>
<div class="t" style="left:1357.4px;top:386.00px;font-size:8.56px;font-weight:700;color:#0c9bee;">Comp. trading CEE</div>
<div class="a" style="left:1248px;top:403px;width:240px;height:24px;background:#0c9bee;"></div>
<div class="t" style="left:1068px;width:600px;text-align:center;top:410.00px;font-size:10.5px;font-weight:700;color:#fff;">Accept</div>
<svg class="a" style="left:1248px;top:438px;" width="10" height="10" viewBox="0 0 10 10" preserveAspectRatio="none"><circle cx="5" cy="5" r="4.3" fill="#fff" stroke="#9fd6f7" stroke-width="1.1"/></svg>
<div class="t" style="left:1266px;top:440.00px;font-size:7.5px;font-weight:700;color:#0f2a52;">86.05</div>
<div class="t" style="left:1308.7px;top:440.00px;font-size:7px;font-weight:400;color:#0f2a52;">GTC</div>
<div class="t" style="left:1337.6px;top:440.00px;font-size:7.75px;font-weight:700;color:#0f2a52;">EEX</div>
<svg class="a" style="left:1248px;top:459.7px;" width="10" height="10" viewBox="0 0 10 10" preserveAspectRatio="none"><circle cx="5" cy="5" r="4.3" fill="#fff" stroke="#9fd6f7" stroke-width="1.1"/></svg>
<div class="t" style="left:1266px;top:461.00px;font-size:7.5px;font-weight:700;color:#0f2a52;">85.90</div>
<div class="t" style="left:1308.7px;top:461.00px;font-size:7px;font-weight:400;color:#0f2a52;">GTC</div>
<div class="t" style="left:1337.6px;top:461.00px;font-size:8.96px;font-weight:700;color:#0f2a52;">En. Supplier Germany</div>
<div class="t" style="left:1249px;top:509.00px;font-size:9.0px;font-weight:700;color:#0f2a52;">EUR/MWh</div>
<svg class="a" style="left:1308.2px;top:505.8px;" width="13" height="13" viewBox="0 0 12 12" preserveAspectRatio="none"><circle cx="6" cy="6" r="5" fill="none" stroke="#0f2a52" stroke-width="1.6"/><path d="M6,3 L6,6.3 L8.6,6.3" fill="none" stroke="#0f2a52" stroke-width="1.5"/></svg>
<div class="t" style="left:1337.6px;top:509.00px;font-size:9.04px;font-weight:700;color:#0f2a52;">1 External counterparty</div>
<div class="a" style="left:1248px;top:525px;width:240px;height:2px;background:#0b2550;"></div>
<div class="a" style="left:1248px;top:535px;width:34px;height:14px;background:#fff;border:1px solid #a9dcf8"></div>
<div class="a" style="left:1292px;top:535px;width:38px;height:14px;background:#fff;border:1px solid #a9dcf8"></div>
<div class="t" style="left:1296.5px;top:540.00px;font-size:9px;font-weight:400;color:#0f2a52;">GTC</div>
<svg class="a" style="left:1341.2px;top:535.5px;" width="15.2" height="16" viewBox="0 0 14.6 16" preserveAspectRatio="none"><path d="M7.3,0.4 C9.5,1.6 11.8,2.2 14.2,2.2 L14.2,8.2 C14.2,11.8 11.2,14.4 7.3,15.8 C3.4,14.4 0.4,11.8 0.4,8.2 L0.4,2.2 C2.8,2.2 5.1,1.6 7.3,0.4 Z" fill="#ef2a36"/><path d="M4.9,5.7 L9.7,10.5 M9.7,5.7 L4.9,10.5" stroke="#fff" stroke-width="1.8" stroke-linecap="round"/></svg>
<div class="t" style="left:1360.3px;top:539.00px;font-size:10.01px;font-weight:400;color:#ef2a36;">@alpha-trading.org</div>
<div class="t" style="left:1248px;top:585.00px;font-size:9.18px;font-weight:700;color:#0f2a52;">10 counterparties</div>
<svg class="a" style="left:1251px;top:601.5px;" width="10" height="11" viewBox="0 0 10 11" preserveAspectRatio="none"><circle cx="5" cy="3.5" r="2.6" fill="none" stroke="#0f2a52" stroke-width="1.5"/><path d="M0.9,10.3 C2,8.3 3.4,7.5 5,7.5 C6.6,7.5 8,8.3 9.1,10.3" fill="none" stroke="#0f2a52" stroke-width="1.6" stroke-linecap="round"/></svg>
<svg class="a" style="left:1273.2px;top:599px;" width="15.2" height="16" viewBox="0 0 14.6 16" preserveAspectRatio="none"><path d="M7.3,0.4 C9.5,1.6 11.8,2.2 14.2,2.2 L14.2,8.2 C14.2,11.8 11.2,14.4 7.3,15.8 C3.4,14.4 0.4,11.8 0.4,8.2 L0.4,2.2 C2.8,2.2 5.1,1.6 7.3,0.4 Z" fill="#ef2a36"/><path d="M4.9,5.7 L9.7,10.5 M9.7,5.7 L4.9,10.5" stroke="#fff" stroke-width="1.8" stroke-linecap="round"/></svg>
<div class="t" style="left:1293px;top:604.00px;font-size:9.0px;font-weight:700;color:#0c9bee;">Bank Commodity</div>
<svg class="a" style="left:1251px;top:621.5px;" width="10" height="11" viewBox="0 0 10 11" preserveAspectRatio="none"><circle cx="5" cy="3.5" r="2.6" fill="none" stroke="#0f2a52" stroke-width="1.5"/><path d="M0.9,10.3 C2,8.3 3.4,7.5 5,7.5 C6.6,7.5 8,8.3 9.1,10.3" fill="none" stroke="#0f2a52" stroke-width="1.6" stroke-linecap="round"/></svg>
<div class="t" style="left:1272px;top:624.00px;font-size:8.62px;font-weight:700;color:#0c9bee;">Comp. trading CEE</div>
<div class="a" style="left:48px;top:671px;width:112px;height:24px;background:#0c9bee;"></div>
<div class="t" style="left:-196px;width:600px;text-align:center;top:680.00px;font-size:10.24px;font-weight:700;color:#fff;">Assign to me</div>
<svg class="a" style="left:307px;top:674.8px;" width="18.2" height="15.4" viewBox="0 0 19 16" preserveAspectRatio="none"><path d="M1,8 C4,3.5 7,2.2 9.5,2.2 C12,2.2 15,3.5 18,8 C15,12.5 12,13.8 9.5,13.8 C7,13.8 4,12.5 1,8 Z" fill="none" stroke="#0c9bee" stroke-width="1.6"/><circle cx="9.5" cy="8" r="3" fill="#0c9bee"/><path d="M2,15.3 L17,0.7" stroke="#0c9bee" stroke-width="1.7" stroke-linecap="round"/></svg>
<div class="a" style="left:48px;top:703px;width:280px;height:176px;background:#ade39d;"></div>
<div class="a" style="left:56px;top:715px;width:56px;height:24px;background:#0b2550;"></div>
<div class="t" style="left:-216px;width:600px;text-align:center;top:720.00px;font-size:15px;font-weight:700;color:#fff;">4:16</div>
<div class="a" style="left:116px;top:715.6px;width:24px;height:24px;border-radius:50%;background:#0b2550"></div>
<div class="t" style="left:-172px;width:600px;text-align:center;top:724.00px;font-size:8.5px;font-weight:700;color:#fff;">NR</div>
<div class="t" style="left:148px;top:717.38px;font-size:7.8px;color:#0f2a52">Sell to <b>Comp. Trading</b></div>
<div class="t" style="left:148px;top:730.00px;font-size:7.53px;font-weight:700;color:#0c9bee;">Romanoff, Natasha</div>
<svg class="a" style="left:301px;top:722px;" width="11" height="12" viewBox="0 0 11 12" preserveAspectRatio="none"><rect x="0" y="0.5" width="11" height="1.9" fill="#0c9bee"/><rect x="3.6" y="5.2" width="7.4" height="1.9" fill="#0c9bee"/><rect x="5.6" y="9.9" width="5.4" height="1.9" fill="#0c9bee"/></svg>
<div class="t" style="left:64px;top:752.00px;font-size:8.6px;font-weight:700;color:#0f2a52;">13:56</div>
<div class="a" style="left:96px;top:753px;width:25.700000000000003px;height:5px;background:#0b2550;"></div>
<div class="a" style="left:121.7px;top:753px;width:159.3px;height:5px;background:#ffffff;"></div>
<div class="t" style="right:1224px;top:752.00px;font-size:8.6px;font-weight:700;color:#0f2a52;">14:01</div>
<svg class="a" style="left:69px;top:779px;" width="13" height="23" viewBox="0 0 12.2 22.8" preserveAspectRatio="none"><path d="M3.4,0 L11.1,0 L7,8.5 L12.1,8.5 L0.3,22.7 L3.2,12 L0,12 Z" fill="#0f2a52"/></svg>
<div class="t" style="left:96px;top:784.00px;font-size:14.61px;font-weight:700;color:#0f2a52;">Cal 23 Base</div>
<div class="t" style="left:96px;top:803.00px;font-size:8.76px;font-weight:400;color:#7f9a86;">1 Jan 2023, 00:00 - 31 Dec 2023, 24:00 CE(S)T</div>
<div class="t" style="left:96px;top:828.00px;font-size:12.82px;font-weight:400;color:#0f2a52;">RTE</div>
<div class="a" style="left:130px;top:827.4px;width:5.533333333333334px;height:11px;background:#2a4fc0;"></div>
<div class="a" style="left:135.53333333333333px;top:827.4px;width:5.533333333333334px;height:11px;background:#ffffff;"></div>
<div class="a" style="left:141.06666666666666px;top:827.4px;width:5.533333333333334px;height:11px;background:#e8262b;"></div>
<div class="t" style="left:96px;top:848.00px;font-size:14px;font-weight:400;color:#0f2a52;">15</div>
<div class="t" style="left:116px;top:852.00px;font-size:8.6px;font-weight:700;color:#0f2a52;">MW</div>
<div class="t" style="left:135.5px;top:852.00px;font-size:8.85px;font-weight:400;color:#7f9a86;">131,400 MWh</div>
<div class="a" style="left:344px;top:672px;width:280px;height:207px;background:#e6fce1;"></div>
<div class="a" style="left:352px;top:683px;width:56px;height:24px;background:#0b2550;"></div>
<div class="t" style="left:80px;width:600px;text-align:center;top:688.00px;font-size:15px;font-weight:700;color:#fff;">8:04</div>
<svg class="a" style="left:412px;top:683px;" width="24" height="24" viewBox="0 0 24 24" preserveAspectRatio="none"><defs><clipPath id="av4"><circle cx="12" cy="12" r="12"/></clipPath></defs><g clip-path="url(#av4)"><rect width="24" height="24" fill="#dcdad8"/><rect x="0" y="0" width="6" height="24" fill="#c4c1be"/><path d="M7,9 C7,4.5 9.5,3 12.5,3 C15.5,3 18,4.5 18,9 L18,13 C18,17 15.5,19 12.5,19 C9.5,19 7,17 7,13 Z" fill="#dba48e"/><path d="M7,8 C7.5,4 10,2.8 12.5,2.8 C15,2.8 17.5,4 18,8 C16,6 9,6 7,8 Z" fill="#9d8a80"/><circle cx="10.3" cy="10.5" r="0.7" fill="#6a4a40"/><circle cx="14.7" cy="10.5" r="0.7" fill="#6a4a40"/><path d="M1,24 C3,19.5 7,18.5 12.5,18.5 C18,18.5 22,19.5 24,24 Z" fill="#f6f5f3"/></g></svg>
<div class="a" style="left:429.2px;top:700.2px;width:7px;height:7px;border-radius:50%;background:#2ec52e"></div>
<div class="t" style="left:444px;top:686.00px;font-size:8.0px;font-weight:400;color:#0f2a52;">You buy power</div>
<div class="t" style="left:444px;top:699.00px;font-size:7.16px;font-weight:700;color:#0f2a52;">John Smith</div>
<svg class="a" style="left:597px;top:689px;" width="11" height="12" viewBox="0 0 11 12" preserveAspectRatio="none"><rect x="0" y="0.5" width="11" height="1.9" fill="#0c9bee"/><rect x="3.6" y="5.2" width="7.4" height="1.9" fill="#0c9bee"/><rect x="5.6" y="9.9" width="5.4" height="1.9" fill="#0c9bee"/></svg>
<div class="t" style="left:360px;top:720.00px;font-size:8.6px;font-weight:700;color:#0f2a52;">13:56</div>
<div class="a" style="left:392px;top:721px;width:20px;height:5px;background:#0b2550;"></div>
<div class="a" style="left:412px;top:721px;width:164px;height:5px;background:#aee39f;"></div>
<div class="t" style="right:928px;top:720.00px;font-size:8.6px;font-weight:700;color:#0f2a52;">14:06</div>
<svg class="a" style="left:366px;top:747px;" width="13" height="23" viewBox="0 0 12.2 22.8" preserveAspectRatio="none"><path d="M3.4,0 L11.1,0 L7,8.5 L12.1,8.5 L0.3,22.7 L3.2,12 L0,12 Z" fill="#0f2a52"/></svg>
<div class="t" style="left:392px;top:752.00px;font-size:14.61px;font-weight:700;color:#0f2a52;">Cal 23 Base</div>
<div class="t" style="left:392px;top:771.00px;font-size:8.76px;font-weight:400;color:#8d97a8;">1 Jan 2023, 00:00 - 31 Dec 2023, 24:00 CE(S)T</div>
<div class="t" style="left:392px;top:796.00px;font-size:12.64px;font-weight:400;color:#0f2a52;">REE</div>
<div class="a" style="left:426.8px;top:795.4px;width:16.6px;height:2.75px;background:#c8202a;"></div>
<div class="a" style="left:426.8px;top:798.15px;width:16.6px;height:5.5px;background:#f5c400;"></div>
<div class="a" style="left:426.8px;top:803.65px;width:16.6px;height:2.75px;background:#c8202a;"></div>
<div class="t" style="left:392px;top:816.00px;font-size:14px;font-weight:400;color:#0f2a52;">8</div>
<div class="t" style="left:405px;top:820.00px;font-size:8.6px;font-weight:700;color:#0f2a52;">MW</div>
<div class="t" style="left:424.5px;top:820.00px;font-size:8.85px;font-weight:400;color:#8d97a8;">70,080 MWh</div>
<div class="t" style="left:360px;top:862.00px;font-size:9.3px;font-weight:700;color:#0f2a52;">Price</div>
<div class="t" style="left:360px;top:874.00px;font-size:9.3px;font-weight:700;color:#0f2a52;">proposal</div>
<div class="a" style="left:407px;top:859px;width:54.5px;height:22px;background:#fff;border:1px solid #a9dcf8"></div>
<div class="t" style="left:411.5px;top:866.00px;font-size:10.55px;font-weight:400;color:#a3acb9;">EUR/MWh</div>
<div class="a" style="left:472.3px;top:859px;width:45.5px;height:22px;background:#fff;border:1px solid #a9dcf8"></div>
<div class="t" style="left:476.8px;top:867.00px;font-size:10.28px;font-weight:400;color:#0f2a52;">IND</div>
<svg class="a" style="left:503.79999999999995px;top:868.8px;" width="8" height="5" viewBox="0 0 8 5" preserveAspectRatio="none"><path d="M1,1 L4.0,4 L7,1" fill="none" stroke="#0c9bee" stroke-width="1.6"/></svg>
<div class="a" style="left:528px;top:859px;width:75.5px;height:20px;border:2px solid #7d8897"></div>
<div class="t" style="left:267.75px;width:600px;text-align:center;top:866.00px;font-size:10.71px;font-weight:400;color:#7d8897;">Send</div>
<div class="a" style="left:640px;top:671px;width:112px;height:24px;background:#0c9bee;"></div>
<div class="t" style="left:396px;width:600px;text-align:center;top:680.00px;font-size:10.24px;font-weight:700;color:#fff;">Assign to me</div>
<svg class="a" style="left:899px;top:674.8px;" width="18.2" height="15.4" viewBox="0 0 19 16" preserveAspectRatio="none"><path d="M1,8 C4,3.5 7,2.2 9.5,2.2 C12,2.2 15,3.5 18,8 C15,12.5 12,13.8 9.5,13.8 C7,13.8 4,12.5 1,8 Z" fill="none" stroke="#0c9bee" stroke-width="1.6"/><circle cx="9.5" cy="8" r="3" fill="#0c9bee"/><path d="M2,15.3 L17,0.7" stroke="#0c9bee" stroke-width="1.7" stroke-linecap="round"/></svg>
<div class="a" style="left:640px;top:703px;width:279px;height:176px;background:#fdeff1;"></div>
<div class="t" style="left:658px;top:721.00px;font-size:14.27px;font-weight:700;color:#0f2a52;">14:30</div>
<div class="a" style="left:708.1px;top:715.6px;width:24px;height:24px;border-radius:50%;background:#0b2550"></div>
<div class="t" style="left:420.1px;width:600px;text-align:center;top:724.00px;font-size:8.5px;font-weight:700;color:#fff;">NR</div>
<div class="t" style="left:740px;top:717.38px;font-size:7.8px;color:#0f2a52">Sell to <b>MMWEST</b></div>
<div class="t" style="left:740px;top:730.00px;font-size:7.52px;font-weight:700;color:#0c9bee;">Newman, Claude Green</div>
<svg class="a" style="left:893px;top:722px;" width="11" height="12" viewBox="0 0 11 12" preserveAspectRatio="none"><rect x="0" y="0.5" width="11" height="1.9" fill="#0c9bee"/><rect x="3.6" y="5.2" width="7.4" height="1.9" fill="#0c9bee"/><rect x="5.6" y="9.9" width="5.4" height="1.9" fill="#0c9bee"/></svg>
<div class="t" style="left:656px;top:752.00px;font-size:8.6px;font-weight:700;color:#0f2a52;">14:35</div>
<div class="a" style="left:688px;top:753px;width:184px;height:5px;background:#fcb2b2;"></div>
<div class="t" style="right:632px;top:752.00px;font-size:8.6px;font-weight:700;color:#0f2a52;">5 min</div>
<svg class="a" style="left:658.5px;top:780px;" width="18" height="24" viewBox="0 0 17.4 23.6" preserveAspectRatio="none"><path d="M7.5,0 C12,3 17.2,8 17.2,14 C17.2,18 14.5,21.5 11.7,23.4 C13.5,20.5 14,16.5 10.2,10.5 C9.5,13 8.7,15 7.8,16.6 L6.5,14.2 C4,16.5 3.3,20.5 5.6,23.4 C2,22 0.2,18.5 0.2,15 C0.2,12 2,9.5 4,7.9 L5.9,9 C6.5,6 7,3 7.5,0 Z" fill="#0f2a52"/></svg>
<div class="t" style="left:688.6px;top:784.00px;font-size:14.61px;font-weight:700;color:#0f2a52;">Cal 25 Base</div>
<div class="t" style="left:688.6px;top:803.00px;font-size:8.77px;font-weight:400;color:#8d97a8;">1 Jan 2025, 06:00 - 1 Jan 2026, 06:00 CE(S)T</div>
<div class="t" style="left:688.6px;top:828.00px;font-size:12.78px;font-weight:400;color:#0f2a52;">PEG</div>
<div class="a" style="left:724px;top:827.4px;width:5.533333333333334px;height:11px;background:#2a4fc0;"></div>
<div class="a" style="left:729.5333333333333px;top:827.4px;width:5.533333333333334px;height:11px;background:#ffffff;"></div>
<div class="a" style="left:735.0666666666667px;top:827.4px;width:5.533333333333334px;height:11px;background:#e8262b;"></div>
<div class="t" style="left:688.6px;top:848.00px;font-size:14px;font-weight:400;color:#0f2a52;">14</div>
<div class="t" style="left:708px;top:852.00px;font-size:8.6px;font-weight:700;color:#0f2a52;">MW</div>
<div class="t" style="left:727.5px;top:852.00px;font-size:8.85px;font-weight:400;color:#8d97a8;">122,640 MWh</div>
<div class="a" style="left:0px;top:880px;width:1536px;height:30px;background:#0b2550;border-radius:0 0 7px 7px"></div>
</body></html>
